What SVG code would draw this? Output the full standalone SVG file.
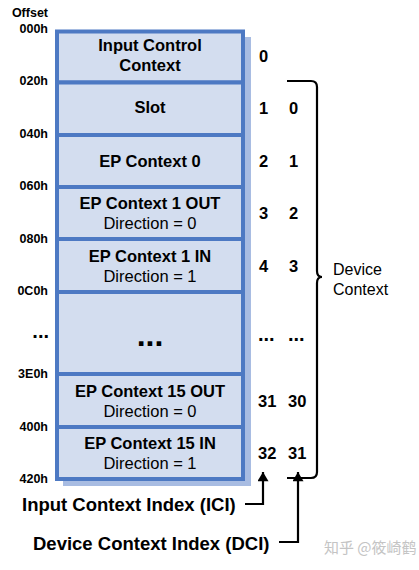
<svg xmlns="http://www.w3.org/2000/svg" width="419" height="570" viewBox="0 0 419 570">
<style>
text{font-family:"Liberation Sans",Arial,sans-serif;fill:#000}
.off{font-size:12.5px;font-weight:bold;text-anchor:end}
.t{font-size:16.5px;font-weight:bold;text-anchor:middle}
.d{font-size:16.5px;text-anchor:middle}
.n{font-size:16.5px;font-weight:bold}
.cell{fill:#d3ddef;stroke:#4d79c3;stroke-width:4}
.big{font-size:18.5px;font-weight:bold}
.con{fill:none;stroke:#000;stroke-width:2.2}
</style>
<defs>
<marker id="ah" viewBox="0 0 10 12" refX="10" refY="6" markerWidth="12" markerHeight="11" markerUnits="userSpaceOnUse" orient="auto">
<path d="M0,0 L10,6 L0,12 Z" fill="#000"/>
</marker>
</defs>
<rect x="63" y="37" width="188" height="449" fill="#a8bce2"/>
<g id="offsets">
<text class="off" x="48" y="17">Offset</text>
<text class="off" x="48" y="33">000h</text>
<text class="off" x="48" y="85">020h</text>
<text class="off" x="48" y="138">040h</text>
<text class="off" x="48" y="190">060h</text>
<text class="off" x="48" y="243">080h</text>
<text class="off" x="48" y="295">0C0h</text>
<text class="off" x="49" y="338" style="font-size:20px">...</text>
<text class="off" x="48" y="378">3E0h</text>
<text class="off" x="48" y="431">400h</text>
<text class="off" x="48" y="483">420h</text>
</g>
<g id="input-control-context">
<rect class="cell" x="57" y="31.5" width="186" height="51"/>
<text class="t" x="150" y="51">Input Control</text>
<text class="t" x="150" y="71">Context</text>
</g>
<g id="slot">
<rect class="cell" x="57" y="82.5" width="186" height="52.5"/>
<text class="t" x="150" y="113">Slot</text>
</g>
<g id="ep0">
<rect class="cell" x="57" y="135" width="186" height="52"/>
<text class="t" x="150" y="167">EP Context 0</text>
</g>
<g id="ep1out">
<rect class="cell" x="57" y="187" width="186" height="52"/>
<text class="t" x="150" y="209">EP Context 1 OUT</text>
<text class="d" x="150" y="229">Direction = 0</text>
</g>
<g id="ep1in">
<rect class="cell" x="57" y="239" width="186" height="53"/>
<text class="t" x="150" y="262">EP Context 1 IN</text>
<text class="d" x="150" y="282">Direction = 1</text>
</g>
<g id="ellipsis">
<rect class="cell" x="57" y="292" width="186" height="82"/>
<text class="t" x="150" y="346" style="font-size:32px">...</text>
</g>
<g id="ep15out">
<rect class="cell" x="57" y="374" width="186" height="53"/>
<text class="t" x="150" y="397">EP Context 15 OUT</text>
<text class="d" x="150" y="417">Direction = 0</text>
</g>
<g id="ep15in">
<rect class="cell" x="57" y="427" width="186" height="52"/>
<text class="t" x="150" y="449">EP Context 15 IN</text>
<text class="d" x="150" y="469">Direction = 1</text>
</g>
<g id="indices">
<text class="n" x="259" y="62">0</text>
<text class="n" x="259" y="114">1</text><text class="n" x="289" y="114">0</text>
<text class="n" x="259" y="167">2</text><text class="n" x="289" y="167">1</text>
<text class="n" x="259" y="219">3</text><text class="n" x="289" y="219">2</text>
<text class="n" x="259" y="272">4</text><text class="n" x="289" y="272">3</text>
<text class="n" x="258" y="341" style="font-size:20px">...</text><text class="n" x="288" y="341" style="font-size:20px">...</text>
<text class="n" x="258" y="407">31</text><text class="n" x="288" y="407">30</text>
<text class="n" x="258" y="459">32</text><text class="n" x="288" y="459">31</text>
</g>
<g id="device-context-label">
<text style="font-size:16px" x="333" y="275">Device</text>
<text style="font-size:16px" x="333" y="295">Context</text>
</g>
<g id="ici-label"><text class="big" x="22" y="511">Input Context Index (ICI)</text></g>
<g id="dci-label"><text class="big" x="33" y="550">Device Context Index (DCI)</text></g>
<g id="connectors">
<path class="con" d="M287,81 H311 Q317,81 317,87 V271 Q317,277 322,277 Q317,277 317,283 V472 Q317,478 311,478 H287"/>
<path class="con" d="M245,504 H263 V472" marker-end="url(#ah)"/>
<path class="con" d="M279,542 H298 V472" marker-end="url(#ah)"/>
</g>
<text x="324" y="553" style="font-size:15px;fill:#c4c4c4;font-family:'Noto Sans CJK SC','Liberation Sans',sans-serif">知乎 @筱崎鹤</text>
</svg>
